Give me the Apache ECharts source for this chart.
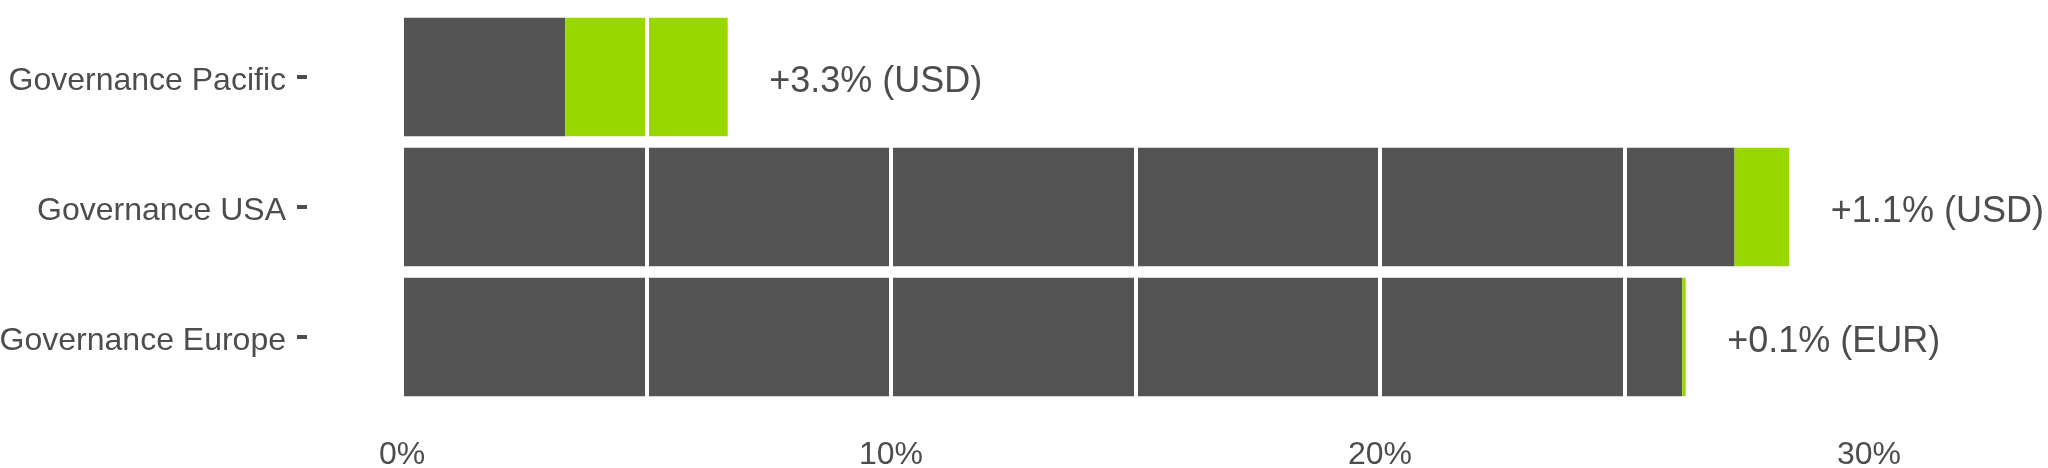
<!DOCTYPE html>
<html>
<head>
<meta charset="utf-8">
<script src="https://cdn.jsdelivr.net/npm/echarts@6/dist/echarts.min.js"></script>
<style>
html, body { margin: 0; padding: 0; background: #ffffff; }
#chart { width: 2048px; height: 468px; }
</style>
</head>
<body>
<div id="chart"></div>
<script>
var categories = ['Governance Pacific', 'Governance USA', 'Governance Europe'];
var baseValues = [3.34, 27.25, 26.18];
var increaseValues = [3.32, 1.12, 0.07];
var changeLabels = ['+3.3% (USD)', '+1.1% (USD)', '+0.1% (EUR)'];
var xTicks = [0, 10, 20, 30];

var textColor = '#4d4d4d';
var fontFamily = '"Liberation Sans", Arial, sans-serif';

var labelPoints = categories.map(function (c, i) {
  return [baseValues[i] + increaseValues[i], i];
});

var chart = echarts.init(document.getElementById('chart'), null, { renderer: 'canvas' });
chart.setOption({
  animation: false,
  backgroundColor: '#ffffff',
  grid: [
    { left: 402, right: 0, top: 12, bottom: 66, containLabel: false, outerBoundsMode: 'none' },
    { left: 307, width: 95, top: 12, bottom: 66, containLabel: false, outerBoundsMode: 'none' }
  ],
  xAxis: [
    {
      type: 'value',
      gridIndex: 0,
      min: 0,
      max: 33.66,
      interval: 10,
      z: 10,
      axisLine: { show: false },
      axisTick: { show: false },
      axisLabel: {
        color: textColor,
        fontSize: 32,
        fontFamily: fontFamily,
        margin: 37,
        formatter: function (v) { return xTicks.indexOf(v) >= 0 ? v + '%' : ''; }
      },
      splitLine: { show: true, lineStyle: { color: '#ffffff', width: 4 } },
      minorTick: { show: false, splitNumber: 2 },
      minorSplitLine: { show: true, lineStyle: { color: '#ffffff', width: 4 } }
    },
    {
      type: 'value',
      gridIndex: 1,
      min: 0,
      max: 1,
      show: false
    }
  ],
  yAxis: [
    {
      type: 'category',
      gridIndex: 0,
      data: categories,
      inverse: true,
      axisLine: { show: false },
      axisTick: { show: false },
      axisLabel: { show: false },
      splitLine: { show: false }
    },
    {
      type: 'category',
      gridIndex: 1,
      data: categories,
      inverse: true,
      axisLine: { show: false },
      axisTick: { show: true, alignWithLabel: true, length: 10, lineStyle: { color: textColor, width: 4 } },
      axisLabel: {
        color: textColor,
        fontSize: 32,
        fontFamily: fontFamily,
        margin: 21,
        verticalAlign: 'top',
        lineHeight: 8
      },
      splitLine: { show: false }
    }
  ],
  series: [
    {
      name: 'base',
      type: 'bar',
      stack: 'total',
      barWidth: '91%',
      itemStyle: { color: '#545454' },
      data: baseValues
    },
    {
      name: 'increase',
      type: 'bar',
      stack: 'total',
      barWidth: '91%',
      itemStyle: { color: '#98d800' },
      data: increaseValues
    },
    {
      name: 'labels',
      type: 'scatter',
      z: 20,
      symbolSize: 1,
      itemStyle: { color: 'rgba(0,0,0,0)', opacity: 1 },
      emphasis: { disabled: true },
      label: {
        show: true,
        position: 'right',
        distance: 41,
        offset: [0, 5],
        color: textColor,
        fontSize: 36,
        fontFamily: fontFamily,
        formatter: function (p) { return changeLabels[p.dataIndex]; }
      },
      data: labelPoints
    }
  ]
});
</script>
</body>
</html>
